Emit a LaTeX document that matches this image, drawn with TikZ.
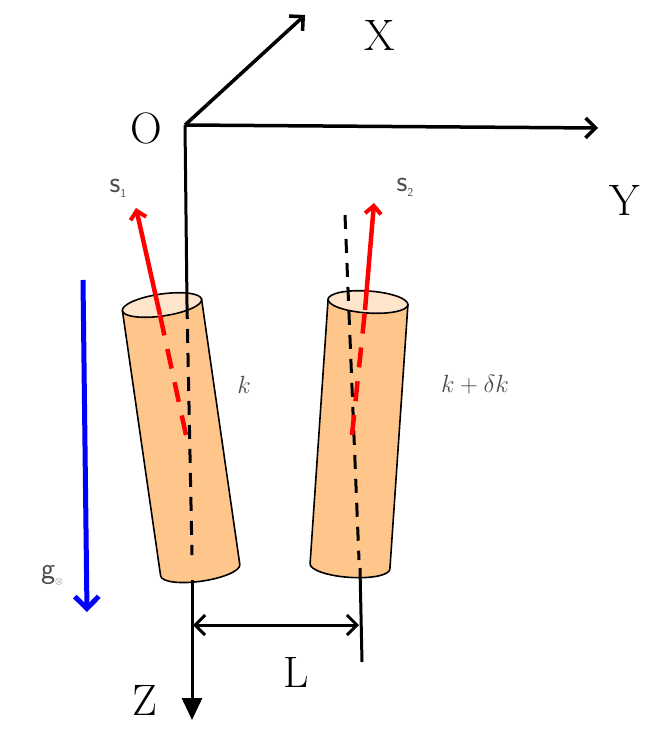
\documentclass[tikz,border=0pt]{standalone}
\usetikzlibrary{arrows.meta}
\begin{document}
\begin{tikzpicture}[x=1pt,y=1pt,
  ax/.style={line width=3.5pt,-{Straight Barb[length=10pt,width=20pt,line width=3.5pt]}},
  cylbody/.style={fill=orange!45!white,draw=black,line width=1.6pt},
  cyltop/.style={fill=orange!20!white,draw=black,line width=1.6pt},
  redarr/.style={red,line width=4.5pt,-{Straight Barb[length=8pt,width=16pt,line width=4pt]}},
  lbl/.style={font=\fontsize{44}{44}\selectfont},
  glbl/.style={text=black!70,font=\fontsize{30}{30}\selectfont}]
\useasboundingbox (0,0) rectangle (650,-730);
\coordinate (O) at (185,-125);
\coordinate (Xe) at (305,-15);
\coordinate (Ye) at (598,-128);
% cylinders
\begin{scope}[shift={(162,-305)},rotate=8.2]
  \draw[cylbody] (-40,0) -- (-40,-268) arc[start angle=180,end angle=360,x radius=40,y radius=11] -- (40,0) -- cycle;
  \draw[cyltop] (0,0) ellipse[x radius=40,y radius=11];
\end{scope}
\begin{scope}[shift={(368,-302)},rotate=-3.9]
  \draw[cylbody] (-40,0) -- (-40,-265) arc[start angle=180,end angle=360,x radius=40,y radius=11] -- (40,0) -- cycle;
  \draw[cyltop] (0,0) ellipse[x radius=40,y radius=11];
\end{scope}
% axes
\draw[ax] (O) -- (Xe);
\draw[ax] (O) -- (Ye);
\coordinate (Z1) at (187,-305);
\coordinate (Z2) at (192,-555);
\coordinate (Z3) at (192,-580);
\coordinate (Ze) at (192,-720);
\draw[line width=3pt] (O) -- (Z1);
\draw[line width=3pt,dash pattern=on 14pt off 10pt] (Z1) -- (Z2);
\draw[line width=3pt,-{Triangle[length=22pt,width=20pt]}] (Z3) -- (Ze);
\coordinate (W1) at (345,-215);
\coordinate (W2) at (359,-560);
\coordinate (W3) at (360,-568);
\coordinate (We) at (362,-662);
\draw[line width=3pt,dash pattern=on 14pt off 10pt] (W1) -- (W2);
\draw[line width=3pt] (W3) -- (We);
% L dimension
\coordinate (La) at (193,-625);
\coordinate (Lb) at (359,-625);
\draw[line width=3pt,{Straight Barb[length=10pt,width=20pt,line width=3pt]}-{Straight Barb[length=10pt,width=20pt,line width=3pt]}] (La) -- (Lb);
% red spin arrows
\coordinate (S1a) at (186,-435);
\coordinate (S1b) at (160,-315);
\coordinate (S1e) at (136,-208);
\draw[red,line width=4.5pt,dash pattern=on 20pt off 14pt] (S1a) -- (S1b);
\draw[redarr] (S1b) -- (S1e);
\coordinate (S2a) at (352,-435);
\coordinate (S2b) at (365,-310);
\coordinate (S2e) at (374,-203);
\draw[red,line width=4.5pt,dash pattern=on 20pt off 14pt] (S2a) -- (S2b);
\draw[redarr] (S2b) -- (S2e);
% gravity
\coordinate (Ga) at (83,-280);
\coordinate (Gb) at (87,-612);
\draw[blue,line width=5pt,-{Straight Barb[length=12pt,width=24pt,line width=5pt]}] (Ga) -- (Gb);
% labels
\node[lbl] (lO) at (146,-128) {O};
\node[lbl] (lX) at (380,-35) {X};
\node[lbl] (lY) at (625,-200) {Y};
\node[lbl] (lZ) at (145,-700) {Z};
\node[lbl] (lL) at (296,-672) {L};
\node[glbl] (ls1) at (118,-188) {\sffamily s\raisebox{-5pt}{\fontsize{12}{12}\selectfont 1}};
\node[glbl] (ls2) at (405,-187) {\sffamily s\raisebox{-5pt}{\fontsize{12}{12}\selectfont 2}};
\node[glbl] (lg) at (52,-575) {\sffamily g\raisebox{-6pt}{\fontsize{10}{10}\selectfont $\otimes$}};
\node[glbl] (lk) at (244,-385) {$k$};
\node[glbl] (lkd) at (475,-385) {$k+\delta k$};
\end{tikzpicture}
\end{document}
